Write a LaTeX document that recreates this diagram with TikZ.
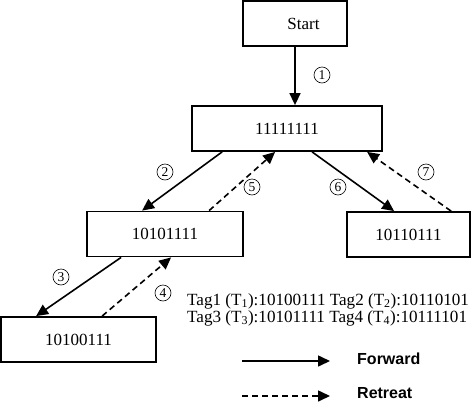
\documentclass[tikz,border=0pt]{standalone}
\usepackage{fontspec}
\setmainfont{Liberation Serif}
\setsansfont{Liberation Sans}
\usetikzlibrary{arrows.meta}

\tikzset{
    box/.style={draw, line width=1.8pt, minimum height=45pt, inner sep=0pt, font=\fontsize{17}{20}\selectfont},
    fwd/.style={line width=1.6pt, -{Triangle[length=12pt,width=11pt]}},
    back/.style={fwd, dash pattern=on 6pt off 4pt},
    num/.style={circle, draw, line width=0.6pt, minimum size=16pt, inner sep=0pt, font=\fontsize{13.5}{13.5}\selectfont},
    tagtext/.style={anchor=base west, inner sep=0pt, font=\fontsize{17.1}{20}\selectfont},
    legtext/.style={anchor=west, inner sep=0pt, font=\sffamily\bfseries\fontsize{16}{18}\selectfont}
}

\begin{document}
\begin{tikzpicture}[x=1pt, y=-1pt]
            \useasboundingbox (0,0) rectangle (474,402);
            % Tree of nodes
            \node[box, minimum width=104pt] (start) at (295,23.5) {\hspace*{17pt}Start};
            \node[box, minimum width=190pt] (top) at (287,128.5) {11111111};
            \node[box, minimum width=156pt] (mid) at (165,234) {10101111};
            \node[box, minimum width=123pt] (right) at (408.5,234.5) {10110111};
            \node[box, minimum width=155pt] (low) at (78.5,339.5) {10100111};
            
            % Forward and retreat steps
            \draw[fwd] (start) -- (start.south |- top.north);
            \draw[fwd] ([xshift=31pt]top.south west) -- ([xshift=56pt]mid.north west);
            \draw[back] ([xshift=123pt]mid.north west) -- ([xshift=84pt]top.south west);
            \draw[fwd] ([xshift=121pt]top.south west) -- ([xshift=48pt]right.north west);
            \draw[back] ([xshift=105pt]right.north west) -- ([xshift=176pt]top.south west);
            \draw[fwd] ([xshift=35pt]mid.south west) -- ([xshift=36pt]low.north west);
            \draw[back] ([xshift=102pt]low.north west) -- ([xshift=85pt]mid.south west);
            
            \node[num] (n1) at (322,75) {1};
            \node[num] (n2) at (165,172) {2};
            \node[num] (n3) at (61,277) {3};
            \node[num] (n4) at (163,293) {4};
            \node[num] (n5) at (252,187) {5};
            \node[num] (n6) at (338,187) {6};
            \node[num] (n7) at (426,172) {7};
            
            % Tags
            \node[tagtext] (tag1) at (187,305) {Tag1 (T\textsubscript{1}):10100111 Tag2 (T\textsubscript{2}):10110101};
            \node[tagtext] (tag3) at (187,322) {Tag3 (T\textsubscript{3}):10101111 Tag4 (T\textsubscript{4}):10111101};
            
            % Legend
            \coordinate (fa) at (242,361);
            \coordinate (fb) at (330,361);
            \coordinate (ra) at (242,396);
            \coordinate (rb) at (330,396);
            \draw[fwd] (fa) -- (fb);
            \draw[back] (ra) -- (rb);
            \node[legtext] (lfwd) at (357,359) {Forward};
            \node[legtext] (lret) at (357,393) {Retreat};
        \end{tikzpicture}
\end{document}
